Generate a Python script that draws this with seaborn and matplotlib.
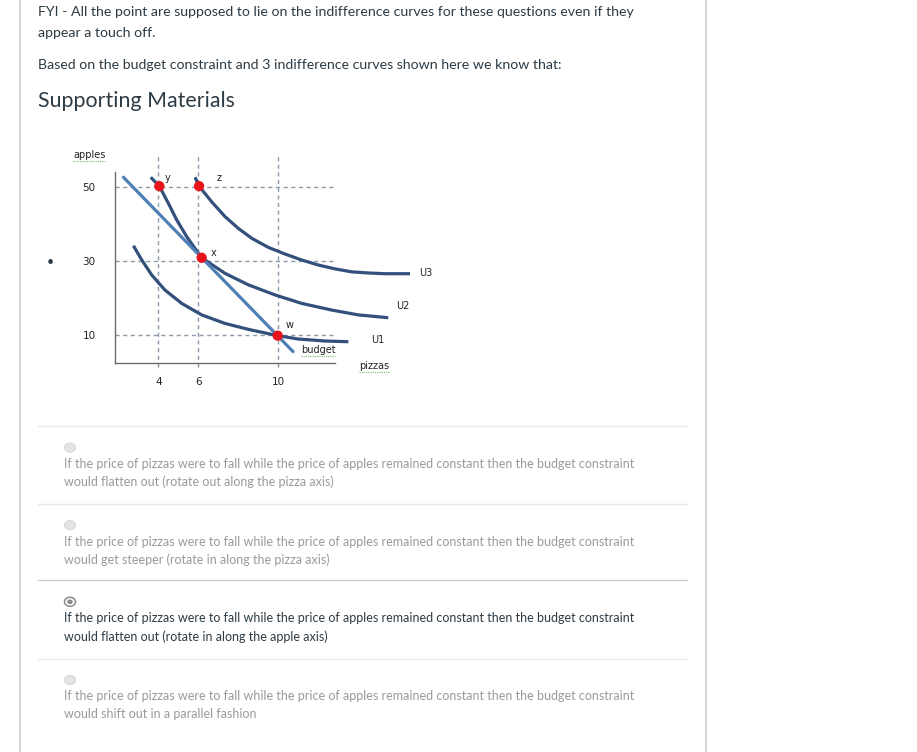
import matplotlib
matplotlib.use("Agg")
import matplotlib.pyplot as plt
from matplotlib.lines import Line2D
from matplotlib.patches import Circle
import seaborn as sns

# values (pizzas, apples)
budget_x = [2.25, 10.75]
budget_y = [52.6, 5.6]

u1_x = [2.75, 3.17, 3.67, 4.33, 5.17, 6.17, 7.34, 8.51, 9.98, 11.01, 12.35, 13.52]
u1_y = [34.15, 30.3, 26.25, 22.2, 18.6, 15.5, 13.2, 11.6, 9.9, 9.0, 8.46, 8.27]

u2_x = [3.62, 4.05, 4.5, 4.92, 5.42, 6.17, 7.34, 8.51, 9.84, 11.18, 12.69, 14.02, 15.52]
u2_y = [52.6, 50.2, 45.6, 41.1, 36.6, 30.9, 26.7, 23.6, 20.9, 18.6, 16.8, 15.5, 14.74]

u3_x = [5.84, 6.04, 6.67, 7.34, 8.01, 8.68, 9.51, 10.35, 11.18, 12.01, 12.85, 13.69, 14.52, 15.36, 16.61]
u3_y = [52.6, 50.2, 46.0, 42.0, 38.8, 36.15, 33.7, 31.9, 30.3, 28.95, 27.9, 27.1, 26.8, 26.6, 26.6]

point_names = ["y", "z", "x", "w"]
point_x = [4.05, 6.04, 6.17, 9.98]
point_y = [50.2, 50.2, 30.9, 9.9]

x_ticks = [4, 6, 10]
y_ticks = [10, 30, 50]

header_lines = [
    "FYI - All the point are supposed to lie on the indifference curves for these questions even if they",
    "appear a touch off.",
    "Based on the budget constraint and 3 indifference curves shown here we know that:",
]
section_title = "Supporting Materials"
stem = "If the price of pizzas were to fall while the price of apples remained constant then the budget constraint"
answers = [
    "would flatten out (rotate out along the pizza axis)",
    "would get steeper (rotate in along the pizza axis)",
    "would flatten out (rotate in along the apple axis)",
    "would shift out in a parallel fashion",
]
selected = 2

sns.set_theme(style="white")
plt.rcParams["font.family"] = ["Lato", "DejaVu Sans"]

W, H = 917, 752
fig = plt.figure(figsize=(W / 100, H / 100), dpi=100)
fig.patch.set_facecolor("white")


def fx(px):
    return px / W


def fy(py):
    return 1 - py / H


# page frame
for bx in (20, 706):
    fig.add_artist(Line2D([fx(bx), fx(bx)], [0, 1], color="#c7cdd1", lw=1.2))

# header text
fig.text(fx(38), fy(12), header_lines[0], fontsize=10.2, color="#2d3b45", va="center")
fig.text(fx(38), fy(33), header_lines[1], fontsize=10.2, color="#2d3b45", va="center")
fig.text(fx(38), fy(65), header_lines[2], fontsize=10.2, color="#2d3b45", va="center")
fig.text(fx(38), fy(101), section_title, fontsize=15.4, color="#2d3b45", va="center")
fig.text(fx(50), fy(262), "\u2022", fontsize=9, color="#2d3b45", va="center", ha="center")

# chart axes, laid over the page
L, R, T, B = 60, 440, 140, 385
ax = fig.add_axes([fx(L), fy(B), (R - L) / W, (B - T) / H])
ax.set_xlim((L - 78.5) / 19.96, (R - 78.5) / 19.96)
ax.set_ylim((372.4 - B) / 3.71, (372.4 - T) / 3.71)
ax.patch.set_alpha(0)

x0, y0 = 1.83, 2.53
x_end, y_top = 12.85, 54.0

grid_kw = dict(color="#8e9aab", lw=1, ls=(0, (3, 2.5)), zorder=1)
for v in y_ticks:
    ax.plot([x0, x_end], [v, v], **grid_kw)
for v in x_ticks:
    ax.plot([v, v], [1.46, 59.1], **grid_kw)

for s in ["top", "right"]:
    ax.spines[s].set_visible(False)
ax.spines["left"].set_position(("data", x0))
ax.spines["left"].set_bounds(y0, y_top)
ax.spines["bottom"].set_position(("data", y0))
ax.spines["bottom"].set_bounds(x0, x_end)
for s in ["left", "bottom"]:
    ax.spines[s].set_color("#6b6b6b")
    ax.spines[s].set_linewidth(1)

ax.set_xticks(x_ticks)
ax.set_yticks(y_ticks)
ax.set_xticklabels([str(t) for t in x_ticks], fontsize=7.5, family="DejaVu Sans", color="#222")
ax.set_yticklabels([str(t) for t in y_ticks], fontsize=7.5, family="DejaVu Sans", color="#222")
ax.tick_params(axis="x", length=0, pad=10)
ax.tick_params(axis="y", length=0, pad=14)

curve_kw = dict(color="#33507c", lw=2.3, sort=False, zorder=3, ax=ax)
for cx, cy in [(u1_x, u1_y), (u2_x, u2_y), (u3_x, u3_y)]:
    ln = sns.lineplot(x=cx, y=cy, **curve_kw)
for l in ax.lines[-3:]:
    l.set_solid_joinstyle("round")
    l.set_solid_capstyle("butt")
sns.lineplot(x=budget_x, y=budget_y, color="#4f7fb4", lw=2.3, sort=False, zorder=4, ax=ax)
sns.scatterplot(x=point_x, y=point_y, color="#e8141c", s=55, edgecolor="none", zorder=5, ax=ax)

lab_kw = dict(fontsize=7, family="DejaVu Sans", color="#222", ha="center", va="center")
ax.text(4.45, 52.3, "y", **lab_kw)
ax.text(7.04, 52.3, "z", **lab_kw)
ax.text(6.79, 32.1, "x", **lab_kw)
ax.text(10.6, 12.8, "w", **lab_kw)
ax.text(15.0, 8.7, "U1", **lab_kw)
ax.text(16.26, 17.9, "U2", **lab_kw)
ax.text(17.41, 26.8, "U3", **lab_kw)
ax.text(0.54, 58.6, "apples", **lab_kw)
ax.text(12.0, 6.0, "budget", **lab_kw)
ax.text(14.83, 1.7, "pizzas", **lab_kw)
# spell-check squiggles under the word labels
for cx, cy, half in [(0.54, 56.9, 0.8), (12.0, 4.3, 0.85), (14.83, 0.0, 0.8)]:
    ax.plot([cx - half, cx + half], [cy, cy], color="#6fbf6f", lw=0.8, ls=(0, (1, 1)), zorder=2)

ax.grid(False)

# answer options
seps = [426, 503.6, 580.3, 658.5]
for i, sy in enumerate(seps):
    col = "#c8ccd0" if i == 2 else "#e8eaec"
    fig.add_artist(Line2D([fx(38), fx(687)], [fy(sy), fy(sy)], color=col, lw=1))

for i, ans in enumerate(answers):
    top = seps[i]
    ry = top + 21.5
    t1 = top + 38
    t2 = top + 56
    if i == selected:
        fig.add_artist(Circle((fx(70), fy(ry)), 5.5 / W, transform=fig.transFigure,
                              facecolor="white", edgecolor="#8a8a8a", lw=1.1))
        fig.add_artist(Circle((fx(70), fy(ry)), 2.8 / W, transform=fig.transFigure,
                              facecolor="#8a8a8a", edgecolor="none"))
        tc = "#2d3b45"
    else:
        fig.add_artist(Circle((fx(70), fy(ry)), 5.5 / W, transform=fig.transFigure,
                              facecolor="#e4e4e4", edgecolor="#d8d8d8", lw=0.8))
        tc = "#9a9a9a"
    fig.text(fx(64), fy(t1), stem, fontsize=9, color=tc, va="center")
    fig.text(fx(64), fy(t2), ans, fontsize=9, color=tc, va="center")

fig.savefig("out.png", dpi=100, facecolor="white")
